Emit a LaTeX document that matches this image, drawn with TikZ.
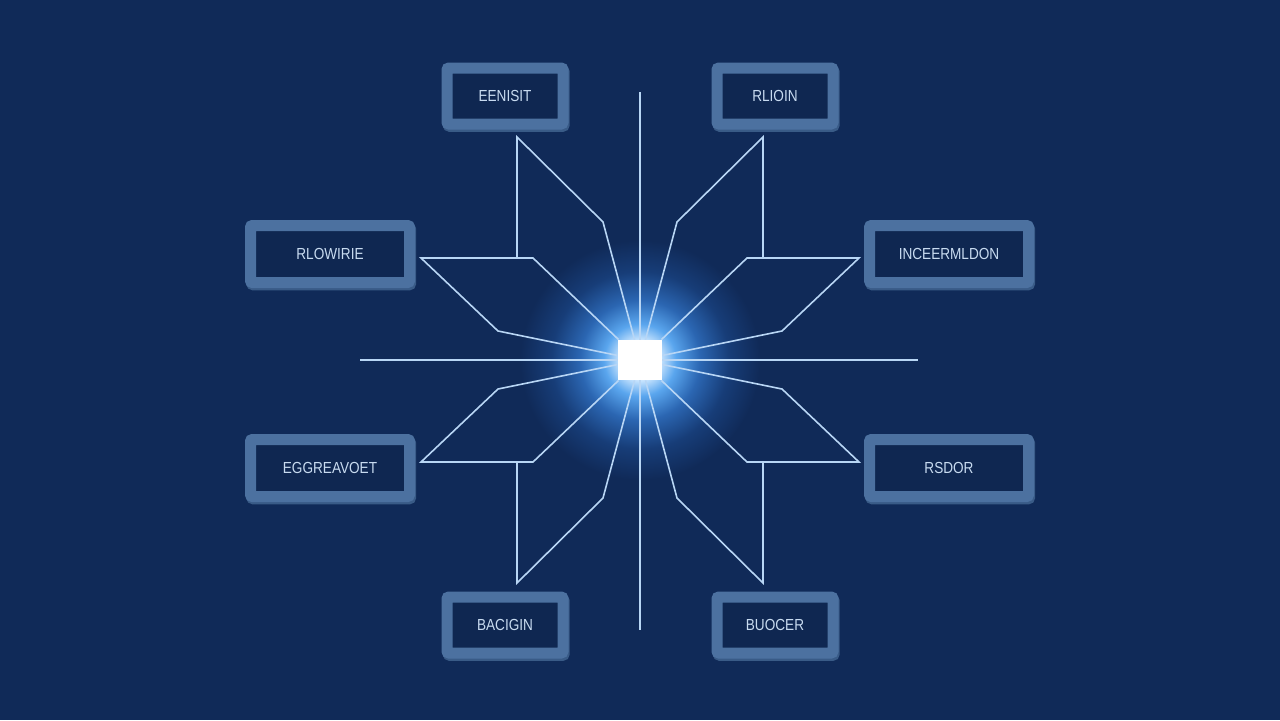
\documentclass[tikz,border=0pt]{standalone}
\usepackage{fontspec}
\newfontfamily\boxfont[FakeStretch=0.85]{Liberation Sans}
\usetikzlibrary{positioning, calc}

\definecolor{bgnavy}{HTML}{102A58}
\definecolor{tracecol}{HTML}{B8D6F5}
\definecolor{boxframe}{HTML}{4C71A0}
\definecolor{boxshade}{HTML}{395B87}
\definecolor{boxinner}{HTML}{0F2751}
\definecolor{boxtext}{HTML}{C8DBF0}
\definecolor{glowwhite}{HTML}{CFE8FF}
\definecolor{glowbright}{HTML}{5AA6EE}
\definecolor{glowmid}{HTML}{2B66B2}
\definecolor{glowdeep}{HTML}{173D78}

\pgfdeclareradialshading{coreglow}{\pgfpoint{0bp}{0bp}}{color(0bp)=(white); color(4bp)=(glowwhite); color(7.5bp)=(glowbright); color(12.5bp)=(glowmid); color(18.5bp)=(glowdeep); color(25bp)=(bgnavy); color(50bp)=(bgnavy)}

\begin{document}
\begin{tikzpicture}[
    x=0.5pt, y=-0.5pt,
    trace/.style={draw=tracecol, line width=0.8pt, line join=miter},
    core/.style={rectangle, fill=white, inner sep=0pt, minimum width=22pt, minimum height=20pt},
    labelbox/.style={rectangle, fill=boxinner, draw=boxframe, line width=5.5pt, rounded corners=1pt, text=boxtext, inner sep=0pt,
        font=\boxfont\fontsize{8}{9}\selectfont,
        preaction={draw=boxshade, line width=5.5pt, transform canvas={shift={(0.6pt,-1.2pt)}}}},
    topbox/.style={labelbox, minimum width=58pt, minimum height=28pt},
    sidebox/.style={labelbox, minimum width=79.5pt, minimum height=28.5pt}
]
    % Background and glow
    \useasboundingbox (0,0) rectangle (1280,720);
    \fill[bgnavy] (0,0) rectangle (1280,720);
    \shade[shading=coreglow] (640,360) circle[radius=60pt];

    % Core
    \node[core] (core) at (640,360) {};

    % Axes
    \coordinate (axn) at (640,92);
    \coordinate (axs) at (640,630);
    \coordinate (axw) at (360,360);
    \coordinate (axe) at (918,360);
    \draw[trace] (axn) -- (core) -- (axs);
    \draw[trace] (axw) -- (core) -- (axe);

    % Traces, one set per quadrant
    \foreach \q/\sx/\sy in {ul/-1/-1, ur/1/-1, ll/-1/1, lr/1/1} {
        \begin{scope}[shift={(640,360)}, xscale=\sx, yscale=\sy]
            \coordinate (\q a) at (37,138);
            \coordinate (\q b) at (123,223);
            \coordinate (\q c) at (123,102);
            \coordinate (\q d) at (219,102);
            \coordinate (\q e) at (107,102);
            \coordinate (\q f) at (142,29);
        \end{scope}
        \draw[trace] (core) -- (\q a) -- (\q b) -- (\q c);
        \draw[trace] (core) -- (\q e) -- (\q d) -- (\q f) -- (core);
    }

    % Boxes
    \node[topbox] (eenisit) at (505,96) {EENISIT};
    \node[topbox] (rlioin) at (775,96) {RLIOIN};
    \node[sidebox] (rlowirie) at (330,254) {RLOWIRIE};
    \node[sidebox] (inceermldon) at (949,254) {INCEERMLDON};
    \node[sidebox] (eggreavoet) at (330,468) {EGGREAVOET};
    \node[sidebox] (rsdor) at (949,468) {RSDOR};
    \node[topbox] (bacigin) at (505,625) {BACIGIN};
    \node[topbox] (buocer) at (775,625) {BUOCER};
\end{tikzpicture}
\end{document}
